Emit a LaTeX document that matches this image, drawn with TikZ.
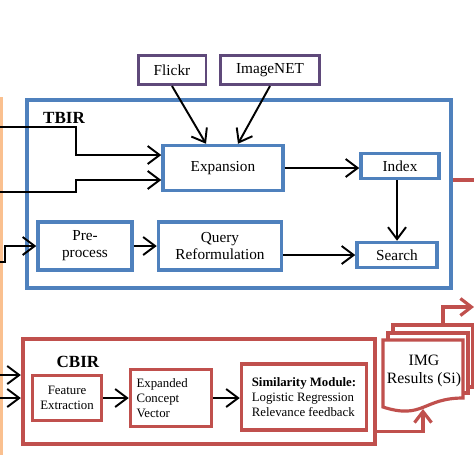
\documentclass[tikz,border=0pt]{standalone}
\usepackage{fontspec}
\setmainfont{Liberation Serif}
\usetikzlibrary{shapes,arrows.meta}
\definecolor{tbirblue}{HTML}{4F81BD}
\definecolor{cbirred}{HTML}{C0504D}
\definecolor{srcpurple}{HTML}{5F497A}
\definecolor{sideorange}{HTML}{FAC08F}

\begin{document}
\begin{tikzpicture}[x=0.02cm, y=-0.02cm,
    bluebox/.style={draw=tbirblue, line width=2pt, fill=white, align=center, inner sep=0pt, font=\fontsize{8.7}{9.8}\selectfont},
    redbox/.style={draw=cbirred, line width=2pt, fill=white, align=center, inner sep=0pt, font=\fontsize{7.3}{8.5}\selectfont},
    srcbox/.style={draw=srcpurple, line width=1.7pt, fill=white, inner sep=0pt, font=\fontsize{8.7}{9.8}\selectfont},
    flow/.style={->, >={Straight Barb[length=2.4mm,width=3.6mm]}, line width=1.1pt},
    redflow/.style={->, >={Straight Barb[length=2.2mm,width=3.4mm]}, draw=cbirred, line width=1.8pt},
    page/.style={draw=cbirred, line width=1.8pt, fill=white}]
    \fill[white] (0,0) rectangle (474,474);
    \useasboundingbox (0,0) rectangle (474,474);

    % side bar
    \draw[sideorange, line width=1.8pt] (1.5,97) -- (1.5,455);

    % TBIR part
    \node[srcbox, minimum width=1.36cm, minimum height=0.58cm] (flickr) at (172,70) {Flickr};
    \node[srcbox, minimum width=2.0cm, minimum height=0.58cm] (imagenet) at (270,70) {ImageNET};
    \node[draw=tbirblue, line width=2pt, minimum width=8.48cm, minimum height=3.76cm] (tbir) at (239,194) {};
    \node[font=\fontsize{9.7}{11}\selectfont\bfseries] (tbirlabel) at (64,118) {TBIR};
    \node[bluebox, minimum width=2.4cm, minimum height=0.9cm] (expan) at (223,168) {Expansion};
    \node[bluebox, minimum width=1.56cm, minimum height=0.5cm] (index) at (400,166) {Index};
    \node[bluebox, minimum width=1.6cm, minimum height=0.5cm] (search) at (397,255) {Search};
    \node[bluebox, minimum width=1.88cm, minimum height=0.96cm] (prep) at (85,246) {Pre-\\process};
    \node[bluebox, minimum width=2.46cm, minimum height=0.96cm] (query) at (220,246) {Query\\Reformulation};

    \coordinate (in1) at (0,127);
    \coordinate (in2) at (0,192);
    \coordinate (in3) at (0,262);
    \draw[flow] (in1) -- ++(76,0) |- ([yshift=0.26cm]expan.west);
    \draw[flow] (in2) -- ++(76,0) |- ([yshift=-0.24cm]expan.west);
    \draw[flow] (in3) -- ++(5,0) |- (prep.west);
    \draw[flow] (flickr.south) -- ([xshift=-0.34cm]expan.north);
    \draw[flow] (imagenet.south) -- ([xshift=0.3cm]expan.north);
    \draw[flow] (expan.east) -- (index.west |- expan.east);
    \draw[flow] (index.south -| search.north) -- (search.north);
    \draw[flow] (prep) -- (query);
    \draw[flow] (query.east |- search.west) -- (search.west);

    \coordinate (tbirout) at (474,180);
    \draw[cbirred, line width=1.8pt] (tbirout -| tbir.east) -- (tbirout);

    % CBIR part
    \node[draw=cbirred, line width=2.5pt, minimum width=7.04cm, minimum height=2.1cm] (cbir) at (199,391.5) {};
    \node[font=\fontsize{9.7}{11}\selectfont\bfseries] (cbirlabel) at (78,362) {CBIR};
    \node[redbox, minimum width=1.38cm, minimum height=0.9cm] (feat) at (67,398) {Feature\\Extraction};
    \node[redbox, minimum width=1.62cm, minimum height=1.14cm, align=left, text width=1.38cm] (ecv) at (171,398) {Expanded\\Concept\\Vector};
    \node[redbox, minimum width=2.5cm, minimum height=1.32cm, align=left] (simil) at (304,397) {\textbf{Similarity Module:}\\Logistic Regression\\Relevance feedback};

    \coordinate (in4) at (0,375);
    \coordinate (in5) at (0,398);
    \draw[flow] (in4) -- (cbir.west |- in4);
    \draw[flow] (in5) -- (cbir.west |- in5);
    \draw[flow] (feat) -- (ecv);
    \draw[flow] (ecv) -- (simil.west |- ecv);

    % IMG results
    \draw[page] (393,325) -- (473,325) -- (473,387) -- (393,387) -- cycle;
    \draw[page] (388,333) -- (468,333) -- (468,393) -- (388,393) -- cycle;
    \draw[page] (383,340) -- (463,340) -- (463,398) .. controls (423,398) and (423,420) .. (383,407) -- cycle;
    \node[align=center, font=\fontsize{9}{10.2}\selectfont] (img) at (424,371) {IMG\\Results (Si)};

    \coordinate (docin) at (423,409);
    \coordinate (pagetop) at (443,325);
    \coordinate (imgout) at (474,307);
    \draw[redflow] (simil.south -| cbir.east) -| (docin);
    \draw[redflow] (pagetop) |- (imgout);
\end{tikzpicture}
\end{document}
